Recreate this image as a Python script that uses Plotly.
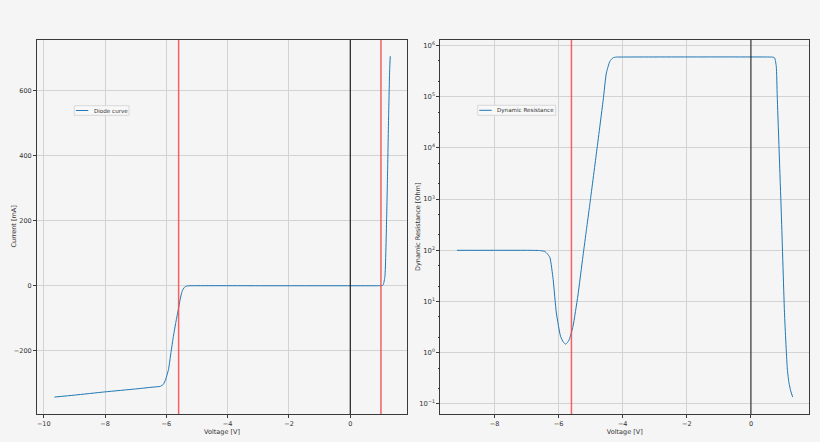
import plotly.graph_objects as go
from plotly.subplots import make_subplots

# ---- data ----
iv_voltage = [-9.65, -9.0, -8.0, -7.0, -6.5, -6.2, -6.10, -6.02, -5.93, -5.85, -5.77,
              -5.69, -5.61, -5.55, -5.50, -5.45, -5.39, -5.30, -5.23, -3.0, 0.0, 0.9, 1.0,
              1.05, 1.076, 1.13, 1.187, 1.22, 1.25, 1.285, 1.304]
iv_current = [-342, -336, -326, -317, -312, -309, -303, -287, -257, -205, -155,
              -112, -73, -42, -21, -10, -3, -0.5, 0, 0, 0, 0, 0.2,
              1, 3, 29, 214, 367, 521, 664, 705]

rd_voltage = [-9.17, -8.0, -7.0, -6.6, -6.43, -6.35, -6.27, -6.17, -6.07, -5.94, -5.85,
              -5.78, -5.72, -5.66, -5.55, -5.40, -5.24, -5.13, -5.03, -4.82, -4.61,
              -4.51, -4.40, -4.30, -4.20, -4.0, 0.6, 0.69, 0.74, 0.79, 0.82, 0.95,
              1.05, 1.135, 1.185, 1.24, 1.30]
rd_resistance = [100, 100, 100, 99, 95, 85, 72, 27, 6.0, 2.1, 1.6,
                 1.47, 1.6, 1.85, 3.3, 12.8, 77, 257, 760, 7900, 85000,
                 290000, 490000, 575000, 592000, 594000, 594000, 590000, 568000, 390000, 101000, 465,
                 5.2, 0.48, 0.26, 0.18, 0.137]

left_red_lines = [-5.6, 1.0]
right_red_lines = [-5.6]
black_lines = [0.0]

left_xticks = [-10, -8, -6, -4, -2, 0]
left_yticks = [-200, 0, 200, 400, 600]
right_xticks = [-8, -6, -4, -2, 0]
right_yticks = [0.1, 1, 10, 100, 1000, 10000, 100000, 1000000]
right_ytext = ["10<sup>\u22121</sup>", "10<sup>0</sup>", "10<sup>1</sup>", "10<sup>2</sup>",
               "10<sup>3</sup>", "10<sup>4</sup>", "10<sup>5</sup>", "10<sup>6</sup>"]

BG = "#f5f5f5"
FRAME = "#3a3a3a"
GRID = "#d3d3d3"
BLUE = "#1f77b4"
RED = "rgba(245,70,70,0.85)"
FONT = dict(family="DejaVu Sans", size=6.5, color="#333")

fig = make_subplots(rows=1, cols=2)

fig.add_trace(go.Scatter(x=iv_voltage, y=iv_current, mode="lines", name="Diode curve",
                         line=dict(color=BLUE, width=1, shape="spline", smoothing=0.5),
                         showlegend=False), row=1, col=1)
fig.add_trace(go.Scatter(x=rd_voltage, y=rd_resistance, mode="lines", name="Dynamic Resistance",
                         line=dict(color=BLUE, width=1, shape="spline", smoothing=0.5),
                         showlegend=False), row=1, col=2)

for v in left_red_lines:
    fig.add_vline(x=v, line=dict(color=RED, width=1.5), row=1, col=1)
for v in right_red_lines:
    fig.add_vline(x=v, line=dict(color=RED, width=1.5), row=1, col=2)
for v in black_lines:
    fig.add_vline(x=v, line=dict(color="rgba(0,0,0,0.85)", width=1.2), row=1, col=1)
    fig.add_vline(x=v, line=dict(color="rgba(0,0,0,0.75)", width=1.2), row=1, col=2)

axis_common = dict(showline=True, linecolor=FRAME, linewidth=1, mirror=True,
                   showgrid=True, gridcolor=GRID, gridwidth=1, zeroline=False,
                   ticks="outside", ticklen=3, tickcolor=FRAME, tickfont=FONT)

fig.update_xaxes(**axis_common)
fig.update_yaxes(**axis_common)


# manual matplotlib-like legends (paper pixel positions)
def px(x):
    return x / 820


def py(y):
    return 1 - y / 442


def add_legend(x0, y0, x1, y1, label):
    fig.add_shape(type="rect", xref="paper", yref="paper", x0=px(x0), x1=px(x1), y0=py(y0), y1=py(y1),
                  line=dict(color="#d0d0d0", width=0.8), fillcolor="#f8f8f8", layer="above")
    ym = (y0 + y1) / 2
    fig.add_shape(type="line", xref="paper", yref="paper", x0=px(x0 + 1.6), x1=px(x0 + 14), y0=py(ym), y1=py(ym),
                  line=dict(color=BLUE, width=1), layer="above")
    fig.add_annotation(xref="paper", yref="paper", x=px(x0 + 17.5), y=py(ym), xanchor="left", yanchor="middle",
                       text=label, showarrow=False, font=dict(family="DejaVu Sans", size=5.6, color="#333"))


add_legend(74.3, 105.7, 129.0, 115.3, "Diode curve")
add_legend(477.7, 105.3, 555.7, 115.3, "Dynamic Resistance")

# y-axis titles, placed like matplotlib's
fig.add_annotation(xref="paper", yref="paper", x=px(13.5), y=py(227), text="Current [mA]", textangle=-90,
                   showarrow=False, xanchor="center", yanchor="middle", font=FONT)
fig.add_annotation(xref="paper", yref="paper", x=px(418), y=py(227), text="Dynamic Resistance [Ohm]",
                   textangle=-90, showarrow=False, xanchor="center", yanchor="middle", font=FONT)

fig.update_layout(
    width=820, height=442,
    margin=dict(l=0, r=0, t=0, b=0),
    paper_bgcolor=BG, plot_bgcolor=BG,
    font=FONT,
    showlegend=False,
    xaxis=dict(domain=[37 / 820, 407 / 820], range=[-10.22, 1.85], tickvals=left_xticks,
               title=dict(text="Voltage [V]", font=FONT, standoff=2)),
    yaxis=dict(domain=[1 - 414 / 442, 1 - 40 / 442], range=[-394, 755], tickvals=left_yticks),
    xaxis2=dict(domain=[440.3 / 820, 809.3 / 820], range=[-9.69, 1.82], tickvals=right_xticks,
                title=dict(text="Voltage [V]", font=FONT, standoff=2)),
    yaxis2=dict(domain=[1 - 414 / 442, 1 - 40 / 442], type="log", range=[-1.196, 6.106],
                tickmode="array", tickvals=right_yticks, ticktext=right_ytext,
                tickfont=dict(family="DejaVu Sans", size=6.8, color="#333"),
                minor=dict(ticks="outside", ticklen=1.5, tickcolor=FRAME, showgrid=False)),
)

fig.write_html("out.html", config={"displayModeBar": False},
               post_script="document.body.style.margin='0';document.body.style.padding='0';")
